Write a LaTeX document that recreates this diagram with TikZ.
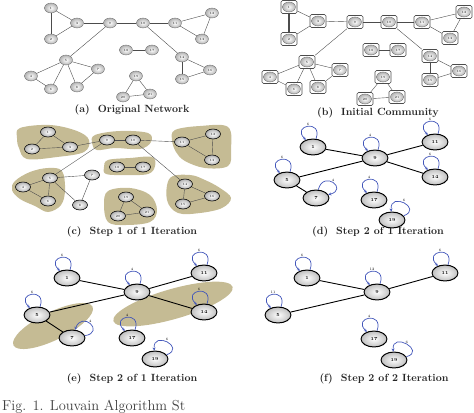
\documentclass[tikz,border=0pt]{standalone}
\usepackage{tikz}
\usetikzlibrary{shapes.geometric,arrows.meta}
\begin{document}
\begin{tikzpicture}[x=1bp,y=-1bp,
    vtx/.style={ellipse,draw=black!55,line width=0.4pt,inner color=white,outer color=black!30,
      minimum width=13,minimum height=10,inner sep=0,font=\fontsize{3.2}{3.2}\selectfont},
    vtxc/.style={vtx,draw=black,line width=0.6pt,minimum width=15},
    cbox/.style={draw=black!70,line width=0.6pt,rounded corners=1.5,minimum width=16,minimum height=13,inner sep=0},
    lnk/.style={draw=black!70,line width=0.4pt},
    cvtx/.style={ellipse,draw=black,line width=1pt,inner color=white,outer color=black!25,
      minimum width=26,minimum height=16,inner sep=0,font=\bfseries\fontsize{4.5}{5}\selectfont},
    lnkb/.style={draw=black,line width=0.9pt},
    selfloop/.style={draw=color_loop,line width=0.7pt,-{Stealth[length=3pt,width=3pt]}},
    looplbl/.style={font=\fontsize{3.5}{4}\selectfont,inner sep=0.8,anchor=south},
    caption/.style={font=\bfseries\fontsize{10.5}{12}\selectfont,text=black!85}]
    \definecolor{color_blob}{RGB}{197,187,148}
    \definecolor{color_loop}{RGB}{66,86,186}
    \useasboundingbox (0,0) rectangle (474,412);

    % (a) original network
    \node[vtx] (a1) at (51,8) {1};
    \node[vtx] (a2) at (51,39) {2};
    \node[vtx] (a3) at (77,23) {3};
    \node[vtx] (a9) at (110,23) {9};
    \node[vtx] (a10) at (143,23) {10};
    \node[vtx] (a11) at (175,23) {11};
    \node[vtx] (a12) at (212,13) {12};
    \node[vtx] (a13) at (202,39) {13};
    \node[vtx] (a18) at (126,50) {18};
    \node[vtx] (a17) at (152,50) {17};
    \node[vtx] (a5) at (66,60) {5};
    \node[vtx] (a4) at (31,76) {4};
    \node[vtx] (a6) at (51,89) {6};
    \node[vtx] (a7) at (98,69) {7};
    \node[vtx] (a8) at (77,87) {8};
    \node[vtx] (a14) at (182,57) {14};
    \node[vtx] (a16) at (210,70) {16};
    \node[vtx] (a15) at (182,79) {15};
    \node[vtx] (a19) at (136,76) {19};
    \node[vtx] (a20) at (123,97) {20};
    \node[vtx] (a21) at (150,94) {21};
    \draw[lnk] (a1) -- (a2);\draw[lnk] (a1) -- (a3);\draw[lnk] (a2) -- (a3);\draw[lnk] (a3) -- (a9);
    \draw[lnk] (a9) -- (a10);\draw[lnk] (a10) -- (a11);\draw[lnk] (a11) -- (a12);\draw[lnk] (a12) -- (a13);
    \draw[lnk] (a11) -- (a13);\draw[lnk] (a10) -- (a14);\draw[lnk] (a14) -- (a16);\draw[lnk] (a14) -- (a15);
    \draw[lnk] (a15) -- (a16);\draw[lnk] (a18) -- (a17);\draw[lnk] (a9) -- (a5);\draw[lnk] (a5) -- (a4);
    \draw[lnk] (a5) -- (a6);\draw[lnk] (a4) -- (a6);\draw[lnk] (a5) -- (a7);\draw[lnk] (a5) -- (a8);
    \draw[lnk] (a7) -- (a8);\draw[lnk] (a19) -- (a20);\draw[lnk] (a19) -- (a21);\draw[lnk] (a20) -- (a21);
    \node[caption] (capa) at (132,110) {(a)\ \ Original Network};

    % (b) initial community
    \node[cbox] (q1) at (289,7) {};\node[vtx] (b1) at (289,7) {1};
    \node[cbox] (q2) at (289,39) {};\node[vtx] (b2) at (289,39) {2};
    \node[cbox] (q3) at (318,21) {};\node[vtx] (b3) at (318,21) {3};
    \node[cbox] (q9) at (355,22) {};\node[vtx] (b9) at (355,22) {9};
    \node[cbox] (q10) at (389,22) {};\node[vtx] (b10) at (389,22) {10};
    \node[cbox] (q11) at (422,22) {};\node[vtx] (b11) at (422,22) {11};
    \node[cbox] (q12) at (464,12) {};\node[vtx] (b12) at (464,12) {12};
    \node[cbox] (q13) at (450,38) {};\node[vtx] (b13) at (450,38) {13};
    \node[cbox] (q18) at (371,50) {};\node[vtx] (b18) at (371,50) {18};
    \node[cbox] (q17) at (398,50) {};\node[vtx] (b17) at (398,50) {17};
    \node[cbox] (q5) at (307,62) {};\node[vtx] (b5) at (307,62) {5};
    \node[cbox] (q4) at (270,77) {};\node[vtx] (b4) at (270,77) {4};
    \node[cbox] (q6) at (294,89) {};\node[vtx] (b6) at (294,89) {6};
    \node[cbox] (q7) at (340,70) {};\node[vtx] (b7) at (340,70) {7};
    \node[cbox] (q8) at (318,87) {};\node[vtx] (b8) at (318,87) {8};
    \node[cbox] (q14) at (430,56) {};\node[vtx] (b14) at (430,56) {14};
    \node[cbox] (q16) at (459,71) {};\node[vtx] (b16) at (459,71) {16};
    \node[cbox] (q15) at (430,80) {};\node[vtx] (b15) at (430,80) {15};
    \node[cbox] (q19) at (383,77) {};\node[vtx] (b19) at (383,77) {19};
    \node[cbox] (q20) at (365,99) {};\node[vtx] (b20) at (365,99) {20};
    \node[cbox] (q21) at (397,97) {};\node[vtx] (b21) at (397,97) {21};
    \draw[lnk,line width=1.5pt] (q1) -- (q2);\draw[lnk] (q1) -- (q3);\draw[lnk] (q2) -- (q3);\draw[lnk] (q3) -- (q9);
    \draw[lnk] (q9) -- (q10);\draw[lnk] (q10) -- (q11);\draw[lnk] (q11) -- (q12);\draw[lnk] (q12) -- (q13);
    \draw[lnk] (q11) -- (q13);\draw[lnk] (q10) -- (q14);\draw[lnk] (q14) -- (q16);\draw[lnk] (q14) -- (q15);
    \draw[lnk] (q15) -- (q16);\draw[lnk] (q18) -- (q17);\draw[lnk] (q9) -- (q5);\draw[lnk] (q5) -- (q4);
    \draw[lnk] (q5) -- (q6);\draw[lnk] (q4) -- (q6);\draw[lnk] (q5) -- (q7);\draw[lnk] (q5) -- (q8);
    \draw[lnk] (q7) -- (q8);\draw[lnk] (q19) -- (q20);\draw[lnk] (q19) -- (q21);\draw[lnk] (q20) -- (q21);
    \node[caption] (capb) at (378,113) {(b)\ \ Initial Community};

    % (c) step 1 of 1 iteration
    \fill[color_blob] plot[smooth cycle,tension=0.6] coordinates {(20,128) (50,125) (77,131) (89,140) (84,152) (57,157) (27,159) (19,148) (17,138)};
    \fill[color_blob] plot[smooth cycle,tension=0.6] coordinates {(95,135) (120,131) (148,133) (151,142) (140,149) (115,148) (97,150) (92,143)};
    \fill[color_blob] plot[smooth cycle,tension=0.6] coordinates {(175,130) (200,126) (228,127) (231,150) (228,166) (205,168) (185,161) (176,152) (172,140)};
    \fill[color_blob] plot[smooth cycle,tension=0.6] coordinates {(108,160) (130,158) (152,157) (155,166) (148,174) (125,175) (106,174) (104,167)};
    \fill[color_blob] plot[smooth cycle,tension=0.6] coordinates {(15,181) (30,172) (48,168) (62,171) (65,190) (61,205) (48,212) (35,206) (20,199) (12,190)};
    \fill[color_blob] plot[smooth cycle,tension=0.6] coordinates {(170,178) (190,175) (205,180) (220,188) (231,198) (222,208) (200,213) (178,213) (167,200)};
    \fill[color_blob] plot[smooth cycle,tension=0.6] coordinates {(108,191) (130,188) (150,195) (157,210) (150,222) (125,225) (108,222) (104,205)};
    \node[vtxc] (c1) at (48,132) {1};
    \node[vtxc] (c2) at (32,149) {2};
    \node[vtxc] (c3) at (70,147) {3};
    \node[vtxc] (c9) at (107,140) {9};
    \node[vtxc] (c10) at (133,140) {10};
    \node[vtxc] (c11) at (182,142) {11};
    \node[vtxc] (c12) at (213,134) {12};
    \node[vtxc] (c13) at (212,160) {13};
    \node[vtxc] (c18) at (117,167) {18};
    \node[vtxc] (c17) at (143,167) {17};
    \node[vtxc] (c5) at (50,178) {5};
    \node[vtxc] (c4) at (23,187) {4};
    \node[vtxc] (c6) at (48,201) {6};
    \node[vtxc] (c7) at (92,175) {7};
    \node[vtxc] (c8) at (80,205) {8};
    \node[vtxc] (c14) at (185,184) {14};
    \node[vtxc] (c16) at (212,196) {16};
    \node[vtxc] (c15) at (183,204) {15};
    \node[vtxc] (c19) at (126,197) {19};
    \node[vtxc] (c20) at (118,216) {20};
    \node[vtxc] (c21) at (147,212) {21};
    \draw[lnk] (c1) -- (c2);\draw[lnk] (c1) -- (c3);\draw[lnk] (c2) -- (c3);\draw[lnk] (c3) -- (c9);
    \draw[lnk] (c9) -- (c10);\draw[lnk] (c10) -- (c11);\draw[lnk] (c11) -- (c12);\draw[lnk] (c12) -- (c13);
    \draw[lnk] (c11) -- (c13);\draw[lnk] (c10) -- (c14);\draw[lnk] (c14) -- (c16);\draw[lnk] (c14) -- (c15);
    \draw[lnk] (c15) -- (c16);\draw[lnk] (c18) -- (c17);\draw[lnk] (c9) -- (c5);\draw[lnk] (c5) -- (c4);
    \draw[lnk] (c5) -- (c6);\draw[lnk] (c4) -- (c6);\draw[lnk] (c5) -- (c7);\draw[lnk] (c5) -- (c8);
    \draw[lnk] (c7) -- (c8);\draw[lnk] (c19) -- (c20);\draw[lnk] (c19) -- (c21);\draw[lnk] (c20) -- (c21);
    \node[caption] (capc) at (132,232) {(c)\ \ Step 1 of 1 Iteration};

    % (d) step 2 of 1 iteration
    \node[cvtx] (d1) at (313,147) {1};
    \node[cvtx] (d9) at (375,158) {9};
    \node[cvtx] (d11) at (435,142) {11};
    \node[cvtx] (d5) at (287,180) {5};
    \node[cvtx] (d14) at (435,177) {14};
    \node[cvtx] (d7) at (316,198) {7};
    \node[cvtx] (d17) at (374,200) {17};
    \node[cvtx] (d19) at (392,220) {19};
    \draw[lnkb] (d1) -- (d9);\draw[lnkb] (d9) -- (d11);\draw[lnkb] (d9) -- (d5);
    \draw[lnkb] (d9) -- (d14);\draw[lnkb] (d5) -- (d7);
    \draw[selfloop] (d1.70) .. controls +(-70:21) and +(-135:21) .. node[looplbl] {6} (d1.135);
    \draw[selfloop] (d9.70) .. controls +(-70:21) and +(-135:21) .. node[looplbl] {4} (d9.135);
    \draw[selfloop] (d11.70) .. controls +(-70:21) and +(-135:21) .. node[looplbl] {6} (d11.135);
    \draw[selfloop] (d5.70) .. controls +(-70:21) and +(-135:21) .. node[looplbl] {6} (d5.135);
    \draw[selfloop] (d14.70) .. controls +(-70:21) and +(-135:21) .. node[looplbl] {6} (d14.135);
    \draw[selfloop] (d7.75) .. controls +(-75:21) and +(-15:21) .. node[looplbl] {4} (d7.15);
    \draw[selfloop] (d17.70) .. controls +(-70:21) and +(-135:21) .. node[looplbl] {4} (d17.135);
    \draw[selfloop] (d19.20) .. controls +(-20:21) and +(-95:21) .. node[looplbl] {6} (d19.95);
    \node[caption] (capd) at (378,232) {(d)\ \ Step 2 of 1 Iteration};

    % (e) step 2 of 1 iteration
    \fill[color_blob,rotate around={26:(53,326)}] (53,326) ellipse [x radius=44,y radius=14];
    \fill[color_blob,rotate around={16:(173,304)}] (173,304) ellipse [x radius=62,y radius=15];
    \node[cvtx] (e1) at (67,278) {1};
    \node[cvtx] (e9) at (137,292) {9};
    \node[cvtx] (e11) at (204,273) {11};
    \node[cvtx] (e5) at (37,315) {5};
    \node[cvtx] (e14) at (204,312) {14};
    \node[cvtx] (e7) at (72,338) {7};
    \node[cvtx] (e17) at (132,338) {17};
    \node[cvtx] (e19) at (155,359) {19};
    \draw[lnkb] (e1) -- (e9);\draw[lnkb] (e9) -- (e11);\draw[lnkb] (e9) -- (e5);
    \draw[lnkb] (e9) -- (e14);\draw[lnkb] (e5) -- (e7);
    \draw[selfloop] (e1.70) .. controls +(-70:21) and +(-135:21) .. node[looplbl] {6} (e1.135);
    \draw[selfloop] (e9.70) .. controls +(-70:21) and +(-135:21) .. node[looplbl] {4} (e9.135);
    \draw[selfloop] (e11.70) .. controls +(-70:21) and +(-135:21) .. node[looplbl] {6} (e11.135);
    \draw[selfloop] (e5.70) .. controls +(-70:21) and +(-135:21) .. node[looplbl] {6} (e5.135);
    \draw[selfloop] (e14.70) .. controls +(-70:21) and +(-135:21) .. node[looplbl] {6} (e14.135);
    \draw[selfloop] (e7.10) .. controls +(-10:21) and +(-70:21) .. node[looplbl] {4} (e7.70);
    \draw[selfloop] (e17.70) .. controls +(-70:21) and +(-135:21) .. node[looplbl] {4} (e17.135);
    \draw[selfloop] (e19.20) .. controls +(-20:21) and +(-95:21) .. node[looplbl] {6} (e19.95);
    \node[caption] (cape) at (132,379) {(e)\ \ Step 2 of 1 Iteration};

    % (f) step 2 of 2 iteration
    \node[cvtx] (f1) at (307,278) {1};
    \node[cvtx] (f9) at (377,292) {9};
    \node[cvtx] (f11) at (445,273) {11};
    \node[cvtx] (f5) at (278,315) {5};
    \node[cvtx] (f17) at (374,339) {17};
    \node[cvtx] (f19) at (394,360) {19};
    \draw[lnkb] (f1) -- (f9);\draw[lnkb] (f9) -- (f11);\draw[lnkb] (f9) -- (f5);
    \draw[selfloop] (f1.70) .. controls +(-70:21) and +(-135:21) .. node[looplbl] {6} (f1.135);
    \draw[selfloop] (f9.70) .. controls +(-70:21) and +(-135:21) .. node[looplbl] {12} (f9.135);
    \draw[selfloop] (f11.70) .. controls +(-70:21) and +(-135:21) .. node[looplbl] {6} (f11.135);
    \draw[selfloop] (f5.70) .. controls +(-70:21) and +(-135:21) .. node[looplbl] {11} (f5.135);
    \draw[selfloop] (f17.70) .. controls +(-70:21) and +(-135:21) .. node[looplbl] {4} (f17.135);
    \draw[selfloop] (f19.15) .. controls +(-15:21) and +(-95:21) .. node[looplbl] {6} (f19.95);
    \node[caption] (capf) at (384,379) {(f)\ \ Step 2 of 2 Iteration};

    \node[anchor=base west,inner sep=0,font=\fontsize{14.5}{15}\selectfont,text=black!75] (figcap) at (2,410) {Fig. 1. Louvain Algorithm St};
\end{tikzpicture}
\end{document}
